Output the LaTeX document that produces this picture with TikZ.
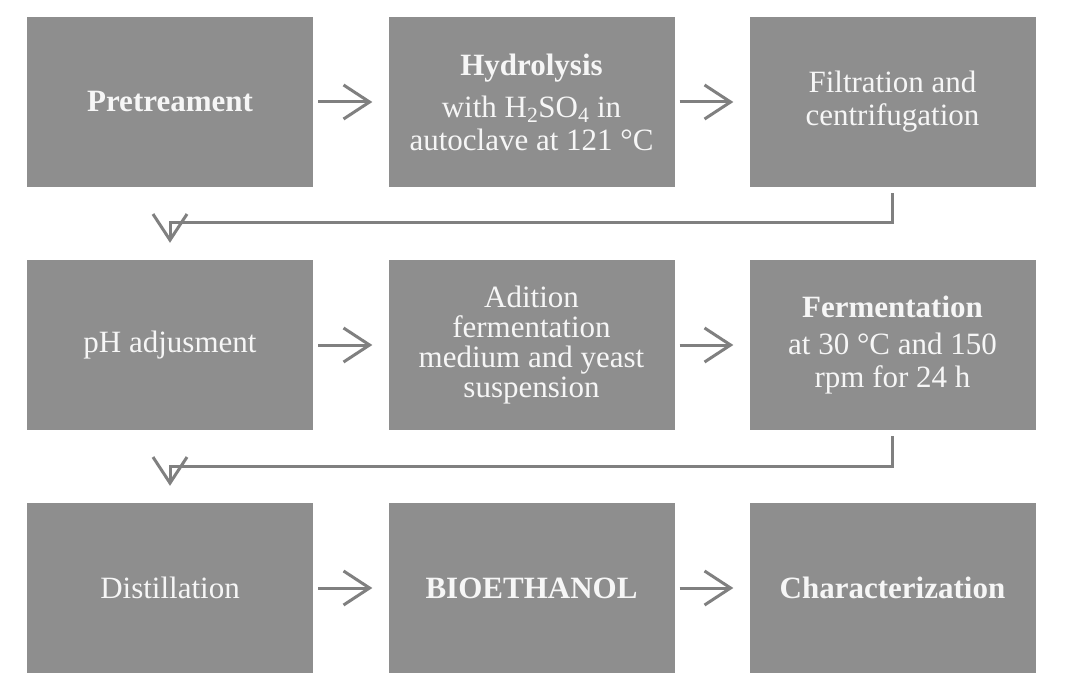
\documentclass[tikz,border=0pt]{standalone}
\usepackage{fontspec}
\setmainfont{Liberation Serif}
\usetikzlibrary{arrows.meta}
\definecolor{boxgray}{HTML}{8E8E8E}
\definecolor{linegray}{HTML}{808080}
\definecolor{txt}{HTML}{F6F6F6}
\begin{document}
\begin{tikzpicture}[x=1pt,y=-1pt,
  stepbox/.style={fill=boxgray,draw=none,minimum width=286pt,minimum height=170pt,
    inner sep=0pt,align=center,text=txt,font=\fontsize{31}{33}\selectfont},
  conn/.style={draw=linegray,line width=3pt,
    -{Straight Barb[length=26pt,width=34pt,line width=3pt]}},
  harrow/.style={conn,shorten <=5pt,shorten >=16pt}
]
\useasboundingbox (0,0) rectangle (1067,687);
\fill[white] (0,0) rectangle (1067,687);
% row 1
\node[stepbox] (b1) at (170,102) {\textbf{Pretreament}};
\node[stepbox] (b2) at (531.5,102) {\textbf{Hydrolysis}\\[9pt]with H\textsubscript{2}SO\textsubscript{4} in\\autoclave at 121 °C};
\node[stepbox] (b3) at (892.5,102) {Filtration and\\centrifugation};
% row 2
\node[stepbox] (b4) at (170,345) {pH adjusment};
\node[stepbox,font=\fontsize{31}{30}\selectfont] (b5) at (531.5,345) {Adition\\fermentation\\medium and yeast\\suspension};
\node[stepbox] (b6) at (892.5,345) {\textbf{Fermentation}\\[4pt]at 30 °C and 150\\rpm for 24 h};
% row 3
\node[stepbox] (b7) at (170,588) {Distillation};
\node[stepbox] (b8) at (531.5,588) {\textbf{BIOETHANOL}};
\node[stepbox] (b9) at (892.5,588) {\textbf{Characterization}};
% horizontal arrows
\draw[harrow] (b1.east) -- (b2.west);
\draw[harrow] (b2.east) -- (b3.west);
\draw[harrow] (b4.east) -- (b5.west);
\draw[harrow] (b5.east) -- (b6.west);
\draw[harrow] (b7.east) -- (b8.west);
\draw[harrow] (b8.east) -- (b9.west);
% row connectors
\draw[conn,shorten <=6pt,shorten >=17pt] (b3.south) -- ++(0,35) -| (b4.north);
\draw[conn,shorten <=6pt,shorten >=17pt] (b6.south) -- ++(0,36) -| (b7.north);
\end{tikzpicture}
\end{document}
